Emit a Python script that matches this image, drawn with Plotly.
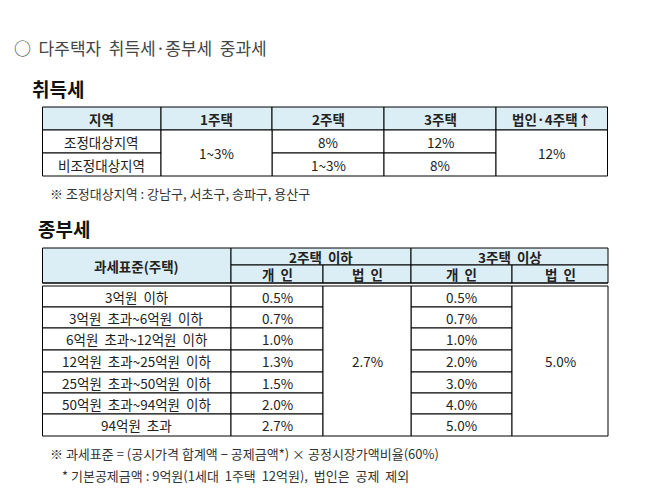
import plotly.graph_objects as go

# acquisition tax table
acq_header = ["지역", "1주택", "2주택", "3주택", "법인·4주택↑"]
acq_regions = ["조정대상지역", "비조정대상지역"]
acq_1house = "1~3%"
acq_2house = ["8%", "1~3%"]
acq_3house = ["12%", "8%"]
acq_corp = "12%"

# comprehensive real estate tax table
brackets = ["3억원  이하", "3억원  초과~6억원  이하", "6억원  초과~12억원  이하",
            "12억원  초과~25억원  이하", "25억원  초과~50억원  이하",
            "50억원  초과~94억원  이하", "94억원  초과"]
two_indiv = ["0.5%", "0.7%", "1.0%", "1.3%", "1.5%", "2.0%", "2.7%"]
two_corp = "2.7%"
three_indiv = ["0.5%", "0.7%", "1.0%", "2.0%", "3.0%", "4.0%", "5.0%"]
three_corp = "5.0%"

FONT = "Noto Sans CJK KR"
HEAD = "#dbeef6"
fig = go.Figure()
shapes, notes = [], []


def cell(x0, x1, y0, y1, text="", fill="white", bold=False, size=13.5):
    shapes.append(dict(type="rect", x0=x0, x1=x1, y0=y0, y1=y1, fillcolor=fill,
                       line=dict(color="black", width=1), layer="below"))
    if text:
        notes.append(dict(x=(x0 + x1) / 2, y=(y0 + y1) / 2, text=f"<b>{text}</b>" if bold else text,
                          showarrow=False, font=dict(family=FONT, size=size, color="#222")))


def label(x, y, text, size=13, bold=False, color="#333"):
    notes.append(dict(x=x, y=y, text=f"<b>{text}</b>" if bold else text, showarrow=False,
                      xanchor="left", font=dict(family=FONT, size=size, color=color)))


label(12, 47, "○  다주택자  취득세·종부세  중과세", size=17, color="#444")
label(30, 88, "취득세", size=19, bold=True, color="#111")

# table 1
xs = [42.5, 161, 272, 384, 496, 607.5]
ys = [107, 130, 153, 176]
for i, h in enumerate(acq_header):
    cell(xs[i], xs[i + 1], ys[0], ys[1], h, fill=HEAD, bold=True)
for r in range(2):
    cell(xs[0], xs[1], ys[r + 1], ys[r + 2], acq_regions[r])
    cell(xs[2], xs[3], ys[r + 1], ys[r + 2], acq_2house[r])
    cell(xs[3], xs[4], ys[r + 1], ys[r + 2], acq_3house[r])
cell(xs[1], xs[2], ys[1], ys[3], acq_1house)
cell(xs[4], xs[5], ys[1], ys[3], acq_corp)
label(48, 193, "※ 조정대상지역 : 강남구, 서초구, 송파구, 용산구", size=13)

label(36, 228, "종부세", size=19, bold=True, color="#111")

# table 2
cx = [42.5, 231, 323, 411, 512, 608]
hy = [248, 265, 283]
cell(cx[0], cx[1], hy[0], hy[2], "과세표준(주택)", fill=HEAD, bold=True)
cell(cx[1], cx[3], hy[0], hy[1], "2주택  이하", fill=HEAD, bold=True)
cell(cx[3], cx[5], hy[0], hy[1], "3주택  이상", fill=HEAD, bold=True)
for i, h in enumerate(["개  인", "법  인", "개  인", "법  인"]):
    cell(cx[i + 1], cx[i + 2], hy[1], hy[2], h, fill=HEAD, bold=True)
ry = [286, 307, 328, 350, 372, 393, 414, 436]
shapes.append(dict(type="line", x0=cx[0], x1=cx[5], y0=283, y1=283, line=dict(color="black", width=1)))
for r in range(7):
    cell(cx[0], cx[1], ry[r], ry[r + 1], brackets[r])
    cell(cx[1], cx[2], ry[r], ry[r + 1], two_indiv[r])
    cell(cx[3], cx[4], ry[r], ry[r + 1], three_indiv[r])
cell(cx[2], cx[3], ry[0], ry[7], two_corp)
cell(cx[4], cx[5], ry[0], ry[7], three_corp)

label(48, 453, "※ 과세표준 = (공시가격 합계액 − 공제금액*) × 공정시장가액비율(60%)", size=13)
label(60, 475, "* 기본공제금액 : 9억원(1세대  1주택  12억원),  법인은  공제  제외", size=13)

# ranges offset by the page's default 8px body margin
fig.update_layout(
    width=652, height=494, margin=dict(l=0, r=0, t=0, b=0),
    paper_bgcolor="white", plot_bgcolor="white",
    xaxis=dict(range=[8, 660], visible=False, fixedrange=True),
    yaxis=dict(range=[502, 8], visible=False, fixedrange=True),
    shapes=shapes, annotations=notes, showlegend=False,
)
fig.write_html("out.html")
